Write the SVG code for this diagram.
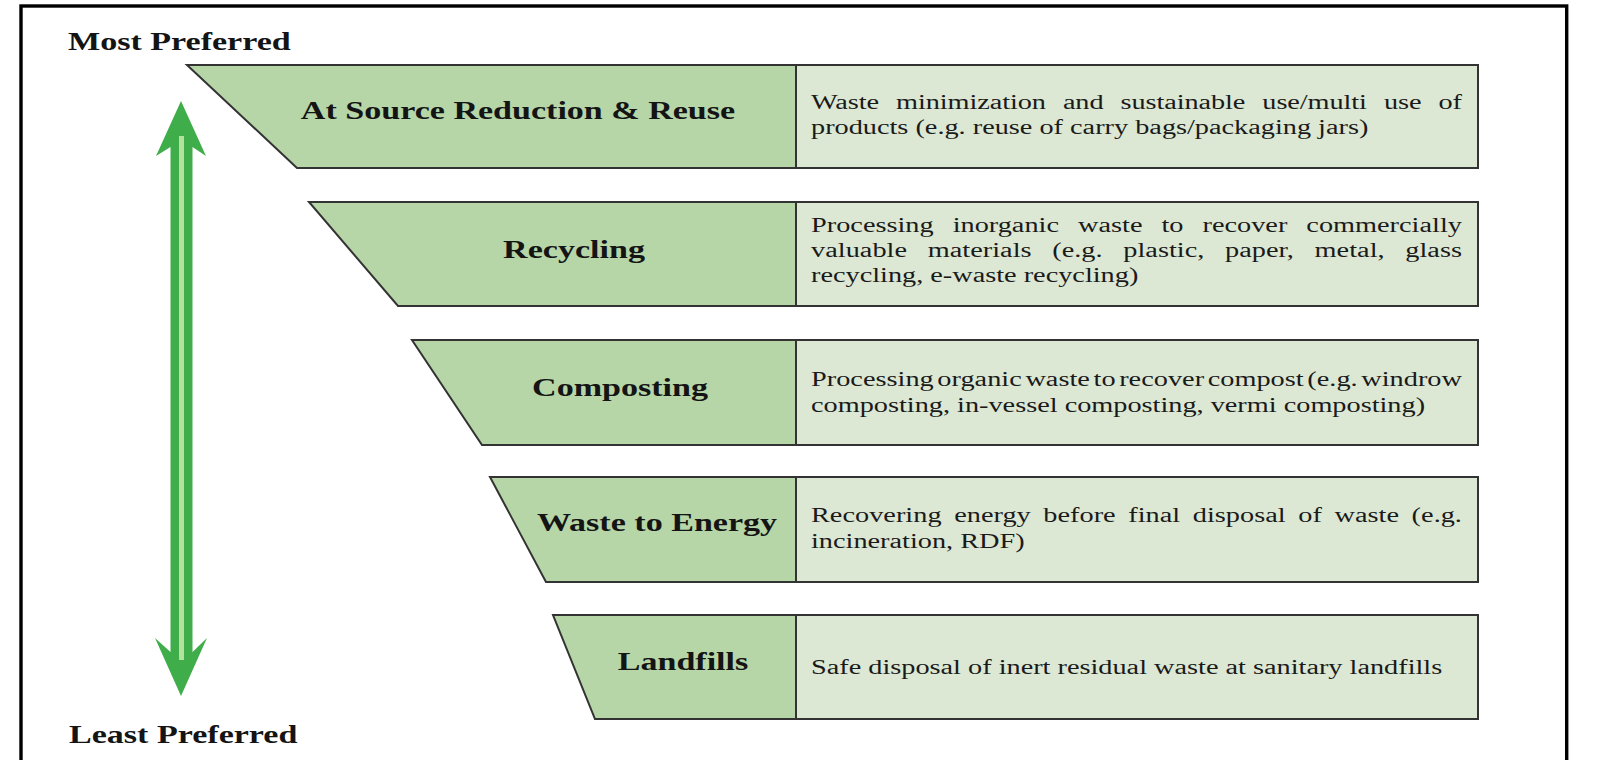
<svg xmlns="http://www.w3.org/2000/svg" width="1597" height="760" viewBox="0 0 1597 760">
<style>
.frame{fill:#ffffff;stroke:#000000;stroke-width:3.4}
.trap{fill:#b6d6a8;stroke:#333333;stroke-width:2}
.desc-box{fill:#dce8d4;stroke:#333333;stroke-width:2}
.label{font-family:"Liberation Serif","Times New Roman",serif;font-weight:bold;font-size:26px;fill:#141414;text-anchor:middle}
.side{font-family:"Liberation Serif","Times New Roman",serif;font-weight:bold;font-size:26px;fill:#141414}
.desc{font-family:"Liberation Serif","Times New Roman",serif;font-size:20.5px;fill:#1a1a1a}
.arrow-fill{fill:#3fae4a}
.arrow-core{stroke:#b4e29e;stroke-width:5;fill:none}
</style>
<rect class="frame" x="21" y="6" width="1545.7" height="820"/>

<g id="side-labels">
  <text class="side" transform="translate(68,50) scale(1.31,1)">Most Preferred</text>
  <text class="side" transform="translate(69,743) scale(1.31,1)">Least Preferred</text>
</g>

<g id="connectors">
  <g id="preference-arrow">
    <rect class="arrow-fill" x="170.5" y="140" width="22" height="518"/>
    <polygon class="arrow-fill" points="181,101 206,156 192.5,147 170.5,147 156,156"/>
    <polygon class="arrow-fill" points="181,696 207,638 192.5,652 170.5,652 155,638"/>
    <line class="arrow-core" x1="181.5" y1="136" x2="181.5" y2="660"/>
  </g>
</g>

<g id="node-source-reduction">
  <polygon class="trap" points="187,65 796,65 796,168 297,168"/>
  <rect class="desc-box" x="796" y="65" width="682" height="103"/>
  <text class="label" transform="translate(518,119) scale(1.31,1)">At Source Reduction &amp; Reuse</text>
  <text class="desc" transform="translate(811,109) scale(1.38,1)" word-spacing="7.3" textLength="471.7" lengthAdjust="spacing">Waste minimization and sustainable use/multi use of</text>
  <text class="desc" transform="translate(811,134) scale(1.38,1)">products (e.g. reuse of carry bags/packaging jars)</text>
</g>

<g id="node-recycling">
  <polygon class="trap" points="309,202 796,202 796,306 398,306"/>
  <rect class="desc-box" x="796" y="202" width="682" height="104"/>
  <text class="label" transform="translate(574,258) scale(1.31,1)">Recycling</text>
  <text class="desc" transform="translate(811,232) scale(1.38,1)" word-spacing="8.6" textLength="471.7" lengthAdjust="spacing">Processing inorganic waste to recover commercially</text>
  <text class="desc" transform="translate(811,257) scale(1.38,1)" word-spacing="9.8" textLength="471.7" lengthAdjust="spacing">valuable materials (e.g. plastic, paper, metal, glass</text>
  <text class="desc" transform="translate(811,282) scale(1.38,1)">recycling, e-waste recycling)</text>
</g>

<g id="node-composting">
  <polygon class="trap" points="412,340 796,340 796,445 482,445"/>
  <rect class="desc-box" x="796" y="340" width="682" height="105"/>
  <text class="label" transform="translate(620,396) scale(1.31,1)">Composting</text>
  <text class="desc" transform="translate(811,386) scale(1.38,1)" word-spacing="-2.5" textLength="471.7" lengthAdjust="spacing">Processing organic waste to recover compost (e.g. windrow</text>
  <text class="desc" transform="translate(811,412) scale(1.38,1)">composting, in-vessel composting, vermi composting)</text>
</g>

<g id="node-waste-to-energy">
  <polygon class="trap" points="490,477 796,477 796,582 546,582"/>
  <rect class="desc-box" x="796" y="477" width="682" height="105"/>
  <text class="label" transform="translate(657,531) scale(1.31,1)">Waste to Energy</text>
  <text class="desc" transform="translate(811,522) scale(1.38,1)" word-spacing="4" textLength="471.7" lengthAdjust="spacing">Recovering energy before final disposal of waste (e.g.</text>
  <text class="desc" transform="translate(811,548) scale(1.38,1)">incineration, RDF)</text>
</g>

<g id="node-landfills">
  <polygon class="trap" points="553,615 796,615 796,719 595,719"/>
  <rect class="desc-box" x="796" y="615" width="682" height="104"/>
  <text class="label" transform="translate(683,670) scale(1.31,1)">Landfills</text>
  <text class="desc" transform="translate(811,674) scale(1.38,1)">Safe disposal of inert residual waste at sanitary landfills</text>
</g>
</svg>
